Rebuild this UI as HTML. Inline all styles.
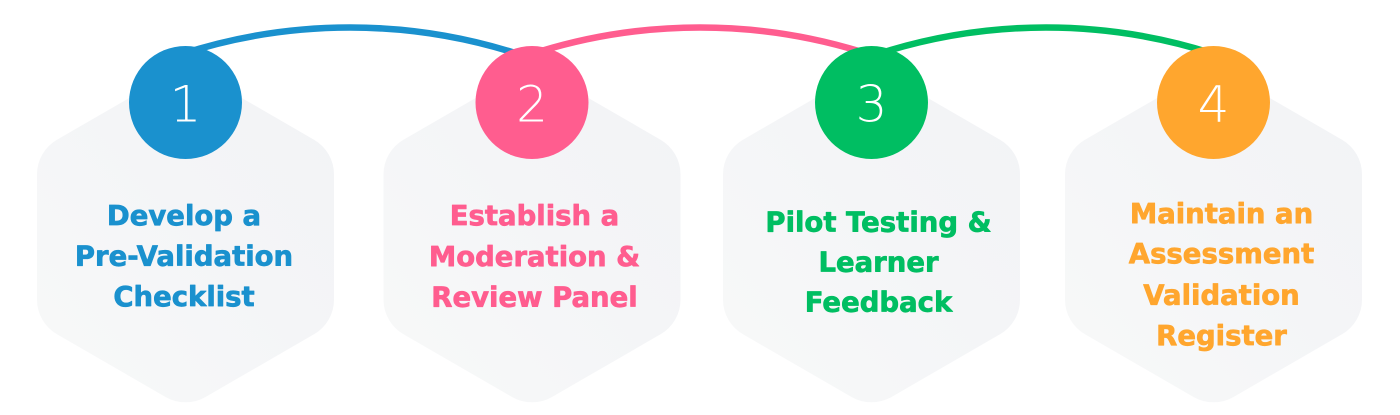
<!DOCTYPE html>
<html>
<head>
<meta charset="utf-8">
<style>
html,body{margin:0;padding:0;background:#ffffff;}
body{width:1400px;height:415px;overflow:hidden;}
svg{display:block;}
.lbl{font-family:"DejaVu Sans","Liberation Sans",sans-serif;font-weight:bold;font-size:27.5px;stroke-width:0.7px;stroke-linejoin:round;}
.num{font-family:"DejaVu Sans","Liberation Sans",sans-serif;font-weight:200;font-size:50px;fill:#ffffff;}
</style>
</head>
<body>
<svg width="1400" height="415" viewBox="0 0 1400 415" xmlns="http://www.w3.org/2000/svg">
  <defs>
    <linearGradient id="hg" x1="0" y1="1" x2="1" y2="0">
      <stop offset="0" stop-color="#f8f9f9"/>
      <stop offset="0.55" stop-color="#f4f5f7"/>
      <stop offset="1" stop-color="#f2f3f6"/>
    </linearGradient>
  </defs>

  <!-- Hexagons -->
  <g fill="url(#hg)">
    <path transform="translate(185.5,237)" d="M20,-159.95 L128.5,-97.3 A40,40 0 0 1 148.5,-62.66 L148.5,62.66 A40,40 0 0 1 128.5,97.3 L20,159.95 A40,40 0 0 1 -20,159.95 L-128.5,97.3 A40,40 0 0 1 -148.5,62.66 L-148.5,-62.66 A40,40 0 0 1 -128.5,-97.3 L-20,-159.95 A40,40 0 0 1 20,-159.95 Z"/>
    <path transform="translate(532,237)" d="M20,-159.95 L128.5,-97.3 A40,40 0 0 1 148.5,-62.66 L148.5,62.66 A40,40 0 0 1 128.5,97.3 L20,159.95 A40,40 0 0 1 -20,159.95 L-128.5,97.3 A40,40 0 0 1 -148.5,62.66 L-148.5,-62.66 A40,40 0 0 1 -128.5,-97.3 L-20,-159.95 A40,40 0 0 1 20,-159.95 Z"/>
    <path transform="translate(871.5,237)" d="M20,-159.95 L128.5,-97.3 A40,40 0 0 1 148.5,-62.66 L148.5,62.66 A40,40 0 0 1 128.5,97.3 L20,159.95 A40,40 0 0 1 -20,159.95 L-128.5,97.3 A40,40 0 0 1 -148.5,62.66 L-148.5,-62.66 A40,40 0 0 1 -128.5,-97.3 L-20,-159.95 A40,40 0 0 1 20,-159.95 Z"/>
    <path transform="translate(1213.5,237)" d="M20,-159.95 L128.5,-97.3 A40,40 0 0 1 148.5,-62.66 L148.5,62.66 A40,40 0 0 1 128.5,97.3 L20,159.95 A40,40 0 0 1 -20,159.95 L-128.5,97.3 A40,40 0 0 1 -148.5,62.66 L-148.5,-62.66 A40,40 0 0 1 -128.5,-97.3 L-20,-159.95 A40,40 0 0 1 20,-159.95 Z"/>
  </g>

  <!-- Arcs -->
  <g fill="none" stroke-width="6.5">
    <path d="M180,54.6 A547,547 0 0 1 520,54.6" stroke="#1a91ce"/>
    <path d="M540,51.4 A547,547 0 0 1 860,51.4" stroke="#ff5d8f"/>
    <path d="M880,53.3 A547,547 0 0 1 1212,53.3" stroke="#00be62"/>
  </g>

  <!-- Circles -->
  <circle cx="185.5" cy="102.5" r="56.5" fill="#1a91ce"/>
  <circle cx="532" cy="102.5" r="56.5" fill="#ff5d8f"/>
  <circle cx="871.5" cy="102.5" r="56.5" fill="#00be62"/>
  <circle cx="1213.5" cy="102.5" r="56.5" fill="#ffa62e"/>

  <!-- Numbers -->
  <text class="num" x="185.5" y="121.5" text-anchor="middle">1</text>
  <text class="num" x="532" y="121.5" text-anchor="middle">2</text>
  <text class="num" x="871.5" y="121.5" text-anchor="middle">3</text>
  <text class="num" x="1213.5" y="121.5" text-anchor="middle">4</text>

  <!-- Labels -->
  <g class="lbl" fill="#1a91ce" stroke="#1a91ce" text-anchor="middle">
    <text x="184" y="225">Develop a</text>
    <text x="184" y="265.5">Pre-Validation</text>
    <text x="184" y="306">Checklist</text>
  </g>
  <g class="lbl" fill="#ff5d8f" stroke="#ff5d8f" text-anchor="middle">
    <text x="534.5" y="225">Establish a</text>
    <text x="534.5" y="266">Moderation &amp;</text>
    <text x="534.5" y="306.5">Review Panel</text>
  </g>
  <g class="lbl" fill="#00be62" stroke="#00be62" text-anchor="middle">
    <text x="878.5" y="231.5">Pilot Testing &amp;</text>
    <text x="878.5" y="271.5">Learner</text>
    <text x="878.5" y="311.5">Feedback</text>
  </g>
  <g class="lbl" fill="#ffa62e" stroke="#ffa62e" text-anchor="middle">
    <text x="1221.5" y="223">Maintain an</text>
    <text x="1221.5" y="263">Assessment</text>
    <text x="1221.5" y="304.5">Validation</text>
    <text x="1221.5" y="345">Register</text>
  </g>
</svg>
</body>
</html>
